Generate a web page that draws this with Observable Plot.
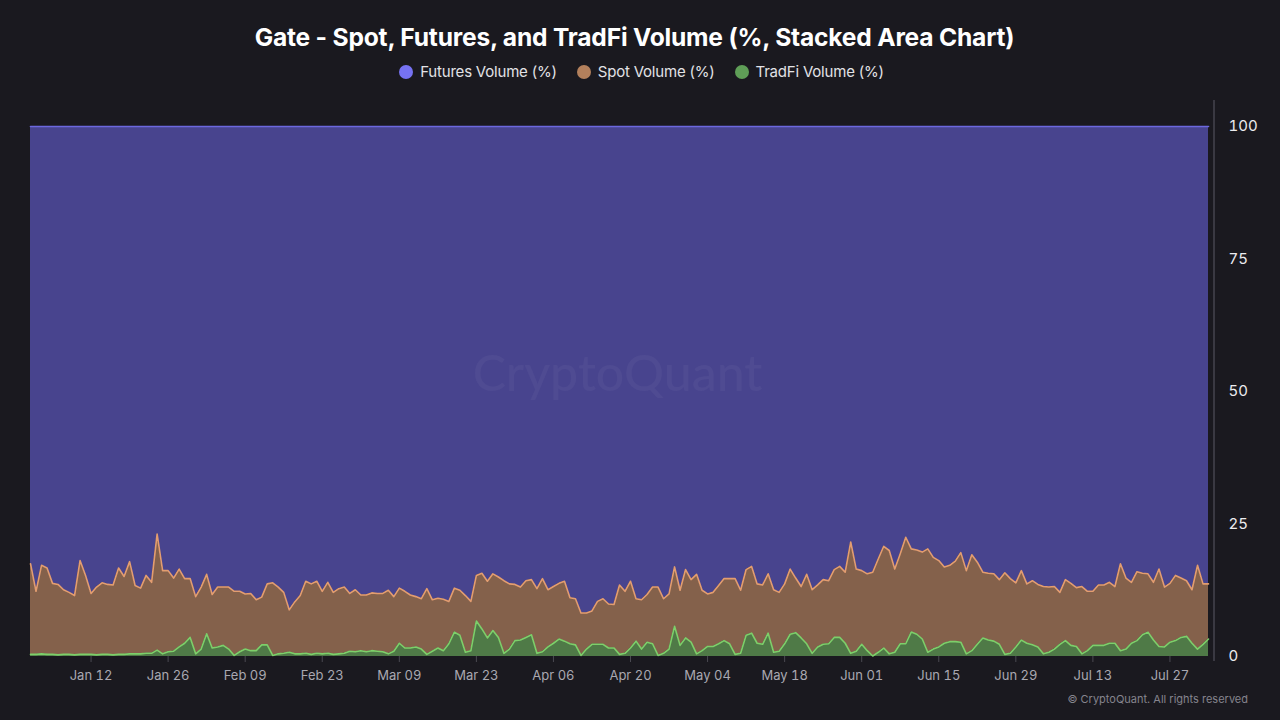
<!DOCTYPE html>
<html>
<head>
<meta charset="utf-8">
<script src="https://cdn.jsdelivr.net/npm/d3@7"></script>
<script src="https://cdn.jsdelivr.net/npm/@observablehq/plot@0.6"></script>
<style>
  body { margin:0; background:#1a191f; width:1280px; height:720px; overflow:hidden; position:relative; font-family:Inter, "Noto Sans", sans-serif; }
  #title { position:absolute; top:22px; left:0; width:1269px; text-align:center; color:#ffffff; font-size:24.6px; font-weight:700; letter-spacing:-0.2px; }
  #legend { position:absolute; top:62px; left:0; width:1283px; display:flex; justify-content:center; gap:20px; color:#e2e2e6; font-size:15px; letter-spacing:-0.2px; }
  #legend span.item { display:flex; align-items:center; gap:7px; }
  #legend span.dot { width:14px; height:14px; border-radius:50%; display:inline-block; }
  #chart { position:absolute; top:100px; left:0; }
  #vline { position:absolute; left:1213px; top:100px; width:2px; height:561px; background:#3a3942; }
  #copy { position:absolute; top:692px; right:32px; color:#85848d; font-size:11px; }
</style>
</head>
<body>
<div id="title">Gate - Spot, Futures, and TradFi Volume (%, Stacked Area Chart)</div>
<div id="legend"></div>
<div id="chart"></div>
<div id="vline"></div>
<div id="copy">© CryptoQuant. All rights reserved</div>
<script>
const startDate = "2025-01-01";
const seriesNames = ["Futures Volume (%)", "Spot Volume (%)", "TradFi Volume (%)"];
const legendColors = ["#7672f2", "#b3805c", "#5f9e57"];
const fillColors = {"Futures Volume (%)": "#48448e", "Spot Volume (%)": "#84614b", "TradFi Volume (%)": "#4f7a47"};
const lineColors = {"Futures Volume (%)": "#6c68de", "Spot Volume (%)": "#e39d70", "TradFi Volume (%)": "#7dcf6a"};
const xTickLabels = ["2025-01-12","2025-01-26","2025-02-09","2025-02-23","2025-03-09","2025-03-23","2025-04-06","2025-04-20","2025-05-04","2025-05-18","2025-06-01","2025-06-15","2025-06-29","2025-07-13","2025-07-27"];
const yTickLabels = [0, 25, 50, 75, 100];

const tradfi = [0.4,0.4,0.5,0.4,0.4,0.3,0.4,0.4,0.3,0.4,0.4,0.4,0.3,0.4,0.4,0.3,0.4,0.4,0.5,0.5,0.5,0.6,0.6,1.2,0.5,0.9,1.0,1.8,2.5,3.6,
0.5,1.4,4.3,1.6,1.8,2.1,1.4,0.2,0.9,1.4,1.1,1.1,2.2,2.2,0.2,0.5,0.6,0.8,0.5,0.5,0.6,0.4,0.6,0.5,0.6,0.4,0.5,0.6,1.0,0.9,
1.1,0.9,1.1,1.0,0.9,0.5,1.0,2.5,1.6,1.6,1.8,1.4,0.4,1.0,1.6,1.1,2.4,4.6,4.0,0.8,1.1,6.7,5.2,3.5,4.9,3.6,0.6,1.4,3.0,3.1,
3.6,4.1,0.6,0.9,1.8,2.5,3.3,2.9,2.4,2.2,0.2,1.4,2.3,2.3,2.3,1.6,1.6,0.4,0.6,1.6,2.9,1.4,2.7,2.4,0.2,0.6,1.4,5.7,2.1,3.5,
2.7,0.5,1.1,1.9,1.9,2.4,3.0,2.4,0.4,0.6,4.0,4.4,2.5,2.3,4.4,0.8,1.0,2.4,4.2,4.5,3.5,2.4,0.6,1.8,2.3,2.4,3.6,3.6,2.5,0.6,
1.0,2.3,1.1,0.1,0.8,1.6,0.5,0.8,2.4,2.4,4.6,4.2,3.3,0.8,1.4,1.8,2.5,2.8,2.8,2.7,0.5,1.1,2.3,3.5,3.1,2.9,2.3,0.4,0.6,1.8,
3.1,2.5,2.2,1.8,0.5,0.8,1.4,2.3,3.0,2.1,1.9,0.5,1.1,2.1,2.1,2.1,2.5,2.5,1.1,1.4,2.5,3.0,4.1,4.6,3.1,1.9,1.8,2.7,3.0,3.6,
3.8,2.5,1.4,2.3,3.3];

const spot = [17.1,11.9,16.7,16.3,13.4,13.3,12.2,11.7,11.2,17.7,14.9,11.5,12.8,13.5,13.2,13.2,16.3,14.7,17.4,12.9,12.4,14.7,13.4,21.9,15.7,15.3,13.8,14.7,12.2,11.1,
10.8,11.7,11.2,10.1,11.3,11.0,11.7,12.1,11.4,10.4,10.8,9.6,9.0,11.5,13.7,12.6,11.5,8.0,9.8,11.0,13.6,13.3,13.6,11.8,13.4,11.7,12.3,12.5,10.9,11.7,
10.5,10.7,10.9,10.9,11.0,12.0,10.3,10.4,10.7,10.0,9.5,9.5,12.4,9.7,9.4,9.7,8.0,8.3,8.5,10.7,9.3,8.6,10.5,10.7,10.7,11.4,13.7,12.3,10.6,10.0,
10.7,10.4,12.2,13.8,10.8,10.7,10.5,11.3,8.7,8.7,8.0,6.8,6.3,8.1,8.6,8.3,8.2,13.1,11.7,12.6,8.0,9.3,9.0,10.7,12.9,10.3,10.4,11.2,10.4,12.9,
11.8,15.0,11.4,9.9,10.2,11.0,11.7,12.3,14.3,11.9,12.4,12.6,11.2,11.2,11.2,11.8,11.1,11.3,12.3,10.3,9.7,13.1,12.0,11.7,12.2,11.9,12.8,13.4,13.4,21.0,
15.5,13.9,14.5,15.8,17.6,19.2,19.5,15.7,17.0,20.1,15.7,15.9,16.4,19.5,17.3,16.3,14.4,14.4,15.2,16.9,15.7,18.1,15.5,12.4,12.6,12.7,12.2,15.4,14.1,12.1,
13.1,11.2,12.1,11.8,12.7,12.3,11.8,9.8,11.5,11.7,11.1,12.7,11.2,10.2,11.4,11.4,11.5,10.7,16.4,13.4,11.5,13.0,11.6,11.0,10.9,14.6,11.3,11.1,12.3,11.2,
10.5,10.1,15.8,11.4,10.4];

const futures = [82.5,87.7,82.8,83.3,86.2,86.4,87.4,87.9,88.5,81.9,84.7,88.1,86.9,86.1,86.4,86.5,83.3,84.9,82.1,86.6,87.1,84.7,86.0,76.9,83.8,83.8,85.2,83.5,85.3,85.3,
88.7,86.9,84.5,88.3,86.9,86.9,86.9,87.7,87.7,88.2,88.1,89.3,88.8,86.3,86.1,86.9,87.9,91.2,89.7,88.5,85.8,86.3,85.8,87.7,86.0,87.9,87.2,86.9,88.1,87.4,
88.4,88.4,88.0,88.1,88.1,87.5,88.7,87.1,87.7,88.4,88.7,89.1,87.2,89.3,89.0,89.2,89.6,87.1,87.5,88.5,89.6,84.7,84.3,85.8,84.4,85.0,85.7,86.3,86.4,86.9,
85.7,85.5,87.2,85.3,87.4,86.8,86.2,85.8,88.9,89.1,91.8,91.8,91.4,89.6,89.1,90.1,90.2,86.5,87.7,85.8,89.1,89.3,88.3,86.9,86.9,89.1,88.2,83.1,87.5,83.6,
85.5,84.5,87.5,88.2,87.9,86.6,85.3,85.3,85.3,87.5,83.6,83.0,86.3,86.5,84.4,87.4,87.9,86.3,83.5,85.2,86.8,84.5,87.4,86.5,85.5,85.7,83.6,83.0,84.1,78.4,
83.5,83.8,84.4,84.1,81.6,79.2,80.0,83.5,80.6,77.5,79.7,79.9,80.3,79.7,81.3,81.9,83.1,82.8,82.0,80.4,83.8,80.8,82.2,84.1,84.3,84.4,85.5,84.2,85.3,86.1,
83.8,86.3,85.7,86.4,86.8,86.9,86.8,87.9,85.5,86.2,87.0,86.8,87.7,87.7,86.5,86.5,86.0,86.8,82.5,85.2,86.0,84.0,84.3,84.4,86.0,83.5,86.9,86.2,84.7,85.2,
85.7,87.4,82.8,86.3,86.3];

// legend
const legend = document.getElementById("legend");
seriesNames.forEach((n, i) => {
  const it = document.createElement("span");
  it.className = "item";
  it.innerHTML = `<span class="dot" style="background:${legendColors[i]}"></span><span>${n}</span>`;
  legend.appendChild(it);
});

const t0 = new Date(startDate + "T00:00:00Z");
const dates = spot.map((_, i) => d3.utcDay.offset(t0, i));
const rows = dates.flatMap((date, i) => [
  {date, series: "TradFi Volume (%)", value: tradfi[i]},
  {date, series: "Spot Volume (%)", value: spot[i]},
  {date, series: "Futures Volume (%)", value: futures[i]}
]);
const order = ["TradFi Volume (%)", "Spot Volume (%)", "Futures Volume (%)"];

const chart = Plot.plot({
  width: 1280,
  height: 620,
  marginLeft: 30,
  marginRight: 72,
  marginTop: 26,
  marginBottom: 64,
  style: {background: "transparent", fontFamily: "Inter, 'Noto Sans', sans-serif", overflow: "visible"},
  x: {type: "utc", domain: [dates[0], dates[dates.length - 1]], label: null},
  y: {domain: [0, 100], label: null},
  color: {type: "identity"},
  marks: [
    Plot.areaY(rows, Plot.stackY({x: "date", y: "value", z: "series", order, fill: d => fillColors[d.series], curve: "linear"})),
    Plot.text(["CryptoQuant"], {frameAnchor: "middle", dx: -2, dy: -17, fontSize: 50, fontFamily: "Lato", fontWeight: 500, fill: "rgba(255,255,255,0.04)"}),
    Plot.lineY(rows, Plot.stackY2({x: "date", y: "value", z: "series", order, stroke: d => lineColors[d.series], strokeWidth: 1.6, curve: "linear"})),
    Plot.axisX({ticks: xTickLabels.map(s => new Date(s + "T00:00:00Z")), tickFormat: d3.utcFormat("%b %d"), tickSize: 6, tickPadding: 8, stroke: "#4a4951", fill: "#a9a8b1", fontSize: 13}),
    Plot.axisY({anchor: "right", ticks: yTickLabels, tickSize: 0, tickPadding: 20, fill: "#ececef", fontSize: 15})
  ]
});
document.getElementById("chart").appendChild(chart);
</script>
</body>
</html>
